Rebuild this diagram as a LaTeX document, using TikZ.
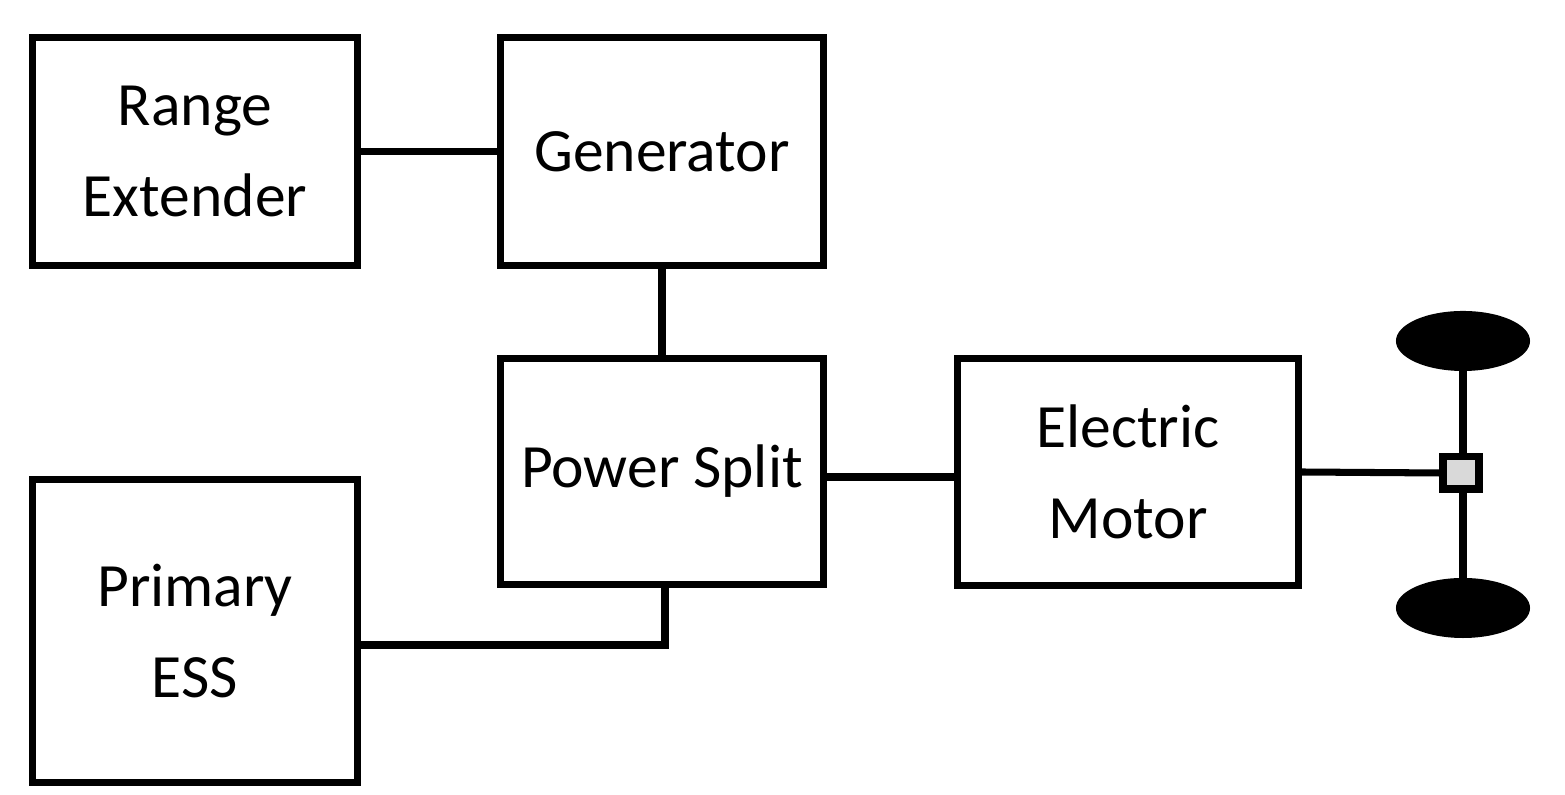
\documentclass[tikz,border=0pt]{standalone}
\usepackage{fontspec}
\setmainfont{Carlito}
\usetikzlibrary{shapes.geometric}
\begin{document}
\begin{tikzpicture}[x=0.01cm,y=-0.01cm,
 box/.style={draw,line width=2pt,align=center,inner sep=0pt,font=\fontsize{17.5}{26}\selectfont},
 ln/.style={line width=2pt},
 wheel/.style={fill=black,ellipse,minimum width=1.34cm,minimum height=0.6cm,inner sep=0pt}]
\useasboundingbox (0,0) rectangle (1565,795);
\node[box,minimum width=3.24cm,minimum height=2.27cm] (re) at (195,151.5) {Range\\Extender};
\node[box,minimum width=3.22cm,minimum height=2.27cm] (gen) at (662,151.5) {Generator};
\node[box,minimum width=3.22cm,minimum height=2.25cm] (ps) at (662,471.5) {Power Split};
\node[box,minimum width=3.40cm,minimum height=2.26cm] (em) at (1128,472) {Electric\\Motor};
\node[box,minimum width=3.24cm,minimum height=3.02cm] (ess) at (195,631) {Primary\\ESS};
\node[wheel] (w1) at (1463,341) {};
\node[wheel] (w2) at (1463,608) {};
\draw[ln] (w1.center) -- (w2.center);
\node[draw,fill=black!15,line width=2pt,minimum width=0.36cm,minimum height=0.32cm,inner sep=0pt] (sq) at (1461,473) {};
\draw[ln] (re.east) -- (gen.west);
\draw[ln] (gen.south) -- (ps.north);
\draw[ln] (ps.east |- 0,477) -- (em.west |- 0,477);
\draw[ln] (em.east) -- (sq.west);
\coordinate (c) at (665,645);
\draw[ln] (ps.south -| c) -- (c) -- (ess.east |- c);
\end{tikzpicture}
\end{document}
